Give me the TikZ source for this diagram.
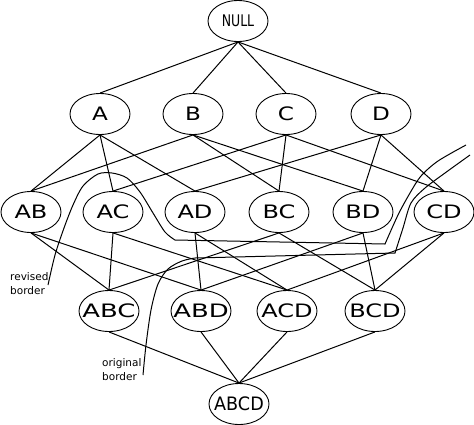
\documentclass[tikz,border=0pt]{standalone}
\usepackage{fontspec}
\usepackage{graphicx}
\setmainfont{DejaVu Sans}
\usetikzlibrary{shapes.geometric}

\newcommand{\itm}[2]{\makebox[0pt]{\scalebox{#1}[1]{#2}}}

\tikzset{
    set/.style={draw, ellipse, line width=0.9pt, minimum width=60pt, minimum height=41pt,
        inner sep=0pt, font=\fontsize{18.5}{18.5}\selectfont},
    edge/.style={line width=1pt},
    note/.style={anchor=west, align=left, inner sep=0pt, font=\fontsize{10.5}{14}\selectfont}
}

\begin{document}
\begin{tikzpicture}[x=1pt, y=-1pt]
    \useasboundingbox (0, 0) rectangle (474, 424);

    \node[set, font=\fontsize{16}{16}\selectfont] (null) at (238, 21) {\itm{0.78}{NULL}};

    \node[set] (a) at (100, 114) {\itm{1.25}{A}};
    \node[set] (b) at (193, 114) {\itm{1.25}{B}};
    \node[set] (c) at (286, 114) {\itm{1.25}{C}};
    \node[set] (d) at (381, 114) {\itm{1.25}{D}};

    \node[set] (ab) at (31, 212) {\itm{1.3}{AB}};
    \node[set] (ac) at (113, 212) {\itm{1.3}{AC}};
    \node[set] (ad) at (195, 212) {\itm{1.3}{AD}};
    \node[set] (bc) at (279, 212) {\itm{1.3}{BC}};
    \node[set] (bd) at (363, 212) {\itm{1.3}{BD}};
    \node[set] (cd) at (444, 212) {\itm{1.3}{CD}};

    \node[set] (abc) at (109, 311) {\itm{1.4}{ABC}};
    \node[set] (abd) at (201, 311) {\itm{1.4}{ABD}};
    \node[set] (acd) at (287, 311) {\itm{1.3}{ACD}};
    \node[set] (bcd) at (375, 311) {\itm{1.3}{BCD}};

    \node[set] (abcd) at (239, 404) {\itm{0.95}{ABCD}};

    % NULL to singles
    \draw[edge] (null.south) -- (a.north);
    \draw[edge] (null.south) -- (b.north);
    \draw[edge] (null.south) -- (c.north);
    \draw[edge] (null.south) -- (d.north);

    % singles to pairs
    \draw[edge] (a.south) -- (ab.north);
    \draw[edge] (a.south) -- (ac.north);
    \draw[edge] (a.south) -- (ad.north);
    \draw[edge] (b.south) -- (ab.north);
    \draw[edge] (b.south) -- (bc.north);
    \draw[edge] (b.south) -- (bd.north);
    \draw[edge] (c.south) -- (ac.north);
    \draw[edge] (c.south) -- (bc.north);
    \draw[edge] (c.south) -- (cd.north);
    \draw[edge] (d.south) -- (ad.north);
    \draw[edge] (d.south) -- (bd.north);
    \draw[edge] (d.south) -- (cd.north);

    % pairs to triples
    \draw[edge] (ab.south) -- (abc.north);
    \draw[edge] (ab.south) -- (abd.north);
    \draw[edge] (ac.south) -- (abc.north);
    \draw[edge] (ac.south) -- (acd.north);
    \draw[edge] (ad.south) -- (abd.north);
    \draw[edge] (ad.south) -- (acd.north);
    \draw[edge] (bc.south) -- (abc.north);
    \draw[edge] (bc.south) -- (bcd.north);
    \draw[edge] (bd.south) -- (abd.north);
    \draw[edge] (bd.south) -- (bcd.north);
    \draw[edge] (cd.south) -- (acd.north);
    \draw[edge] (cd.south) -- (bcd.north);

    % triples to ABCD
    \draw[edge] (abc.south) -- (abcd.north);
    \draw[edge] (abd.south) -- (abcd.north);
    \draw[edge] (acd.south) -- (abcd.north);
    \draw[edge] (bcd.south) -- (abcd.north);

    % borders
    \node[note] (revised) at (10, 284) {revised\\border};
    \node[note] (original) at (102, 370) {original\\border};

    \draw[edge] plot[smooth] coordinates {(48, 285) (55, 255) (64, 228) (73, 205) (83, 186) (98, 174)
        (112, 173) (127, 178) (140, 192) (153, 213) (165, 232) (175, 240)}
        -- (385, 244)
        -- plot[smooth] coordinates {(385, 244) (398, 215) (410, 193) (421, 176) (438, 161) (466, 145)};
    \draw[edge] plot[smooth] coordinates {(143, 375) (146, 345) (151, 310) (158, 284) (168, 269)
        (182, 261) (195, 258)}
        -- (395, 253)
        -- plot[smooth] coordinates {(395, 253) (403, 228) (411, 203) (425, 188) (445, 173) (470, 155)};
\end{tikzpicture}
\end{document}
